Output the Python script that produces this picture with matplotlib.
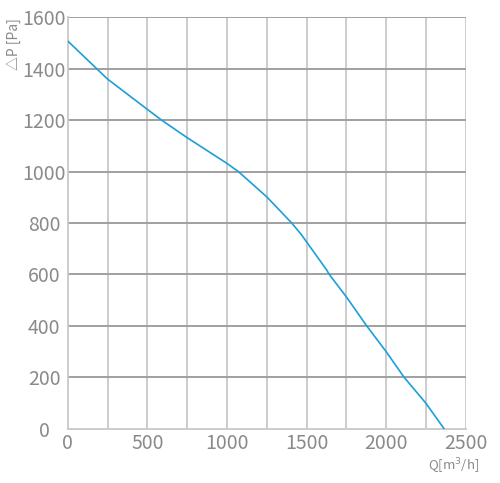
import matplotlib
matplotlib.use("Agg")
import matplotlib.pyplot as plt

plt.rcParams['font.family'] = ['Noto Sans CJK SC', 'DejaVu Sans']

# curve
flow = [0, 182, 250, 500, 590, 750, 1000, 1072, 1250, 1407, 1470, 1500, 1627, 1643, 1750, 1878, 2000, 2113, 2250, 2364]
pressure = [1508, 1400, 1360, 1242, 1200, 1132, 1032, 1000, 902, 800, 753, 727, 617, 600, 513, 400, 300, 200, 99, 0]

x_ticks = [0, 500, 1000, 1500, 2000, 2500]
y_ticks = [0, 200, 400, 600, 800, 1000, 1200, 1400, 1600]

txt = '#8a8a8a'

fig = plt.figure(figsize=(5, 4.83), dpi=100)
ax = fig.add_axes([0.1354, 0.1124, 0.796, 0.8518])

# grid
for v in range(250, 2501, 250):
    ax.axvline(v, color='#c8c8c8', lw=1.3, zorder=1)
for v in y_ticks[1:]:
    ax.axhline(v, color='#a0a0a0', lw=1.4, zorder=1)

ax.plot(flow, pressure, color='#1a9fd9', lw=1.2, zorder=3)

ax.set_xlim(0, 2500)
ax.set_ylim(0, 1600)
ax.set_xticks(x_ticks)
ax.set_yticks(y_ticks)
ax.tick_params(length=0, labelsize=14, colors=txt)
ax.tick_params(axis='x', pad=3)
ax.tick_params(axis='y', pad=2)
for lab in ax.get_yticklabels():
    lab.set_horizontalalignment('center')
    lab.set_x(-0.052)

for s in ['top', 'right']:
    ax.spines[s].set_visible(False)
for s in ['left', 'bottom']:
    ax.spines[s].set_color('#c8c8c8')
    ax.spines[s].set_linewidth(1.3)

fig.text(0.028, 0.962, '△P [Pa]', rotation=90, ha='center', va='top', fontsize=10, color=txt)
fig.text(0.908, 0.014, 'Q[m$^3$/h]', ha='center', va='bottom', fontsize=9.5, color=txt)

fig.savefig('out.png', dpi=100)
